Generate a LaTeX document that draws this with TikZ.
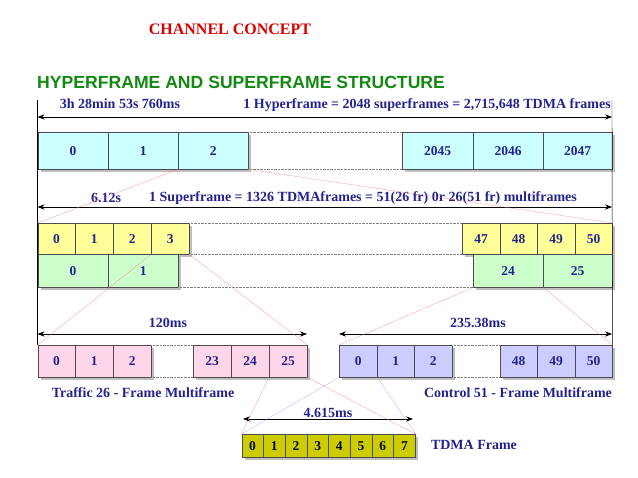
\documentclass[tikz,border=0pt]{standalone}
\usepackage{fontspec}
\setmainfont{Liberation Serif}
\newfontfamily\titlesans{Liberation Sans}
\usepackage{tikz}
\usetikzlibrary{shadows, arrows.meta, positioning}

\definecolor{navy}{HTML}{23238E}
\definecolor{hypercol}{HTML}{CCFFFF}
\definecolor{supercol}{HTML}{FFFF99}
\definecolor{twentysix}{HTML}{CCFFCC}
\definecolor{trafcol}{HTML}{FFD5EA}
\definecolor{ctrlcol}{HTML}{CCCCFF}
\definecolor{tdmacol}{HTML}{CCCC00}
\definecolor{titlegreen}{HTML}{128A12}

\tikzset{
	cell/.style={draw=black!70, anchor=north west, inner sep=0pt, text=navy,
		font=\bfseries\fontsize{13.5}{13.5}\selectfont,
		drop shadow={shadow xshift=3pt, shadow yshift=-3pt, fill=black!25, opacity=1}},
	lbl/.style={text=navy, font=\bfseries\fontsize{14}{14}\selectfont, inner sep=1pt},
	span/.style={{Stealth[length=7pt]}-{Stealth[length=7pt]}, thick},
	gap/.style={black!50, densely dotted},
	zoomred/.style={red!55, very thin},
	zoomblue/.style={blue!40, very thin},
}

\begin{document}
\begin{tikzpicture}[x=1pt, y=-1pt]
	\useasboundingbox (0,0) rectangle (638,478);
	% titles
	\node[text=red!85!black, font=\bfseries\fontsize{16}{16}\selectfont] (title) at (230,29) {CHANNEL CONCEPT};
	\node[anchor=west, inner sep=0pt, text=titlegreen, font=\titlesans\bfseries\fontsize{17.6}{17.6}\selectfont] (head) at (37,82) {HYPERFRAME AND SUPERFRAME STRUCTURE};

	% outer frame lines
	\coordinate (ltop) at (37.5,100);
	\coordinate (rtop) at (612,100);

	% hyperframe
	\coordinate (ha) at (37.5,117);
	\coordinate (hb) at (612,117);
	\draw[span] (ha) -- (hb);
	\node[lbl] (hlen) at (120,104) {3h 28min 53s 760ms};
	\node[lbl, anchor=east] (hdef) at (612,105) {1 Hyperframe = 2048 superframes = 2,715,648 TDMA frames};
	\foreach \n/\x/\w/\t in {h0/37.5/70.5/0, h1/108/70/1, h2/178/70/2, h3/402/71/2045, h4/473/70/2046, h5/543/69/2047}
		\node[cell, fill=hypercol, minimum width=\w pt, minimum height=37pt] (\n) at (\x,132) {\t};
	\draw[gap] (h2.north east) -- (h3.north west);
	\draw[gap] (h2.south east) -- (h3.south west);

	% superframe
	\coordinate (sa) at (37.5,207);
	\coordinate (sb) at (612,207);
	\draw[span] (sa) -- (sb);
	\node[lbl] (slen) at (106,198) {6.12s};
	\node[lbl, anchor=west] (sdef) at (148,198) {1 Superframe = 1326 TDMAframes = 51(26 fr) 0r 26(51 fr) multiframes};
	\foreach \n/\x/\w/\t in {y0/37.5/37.5/0, y1/75/38/1, y2/113/38/2, y3/151/38/3, y4/462/38/47, y5/500/37/48, y6/537/38/49, y7/575/37/50}
		\node[cell, fill=supercol, minimum width=\w pt, minimum height=31pt] (\n) at (\x,223) {\t};
	\draw[gap] (y3.north east) -- (y4.north west);
	\draw[gap] (y3.south east) -- (y4.south west);
	\foreach \n/\x/\w/\t in {g0/37.5/70.5/0, g1/108/70/1, g2/473/70/24, g3/543/69/25}
		\node[cell, fill=twentysix, minimum width=\w pt, minimum height=33pt] (\n) at (\x,254) {\t};
	\draw[gap] (g1.south east) -- (g2.south west);

	% multiframes
	\coordinate (ta) at (37.5,334);
	\coordinate (tb) at (307,334);
	\coordinate (ca) at (339,334);
	\coordinate (cb) at (612,334);
	\draw[span] (ta) -- (tb);
	\draw[span] (ca) -- (cb);
	\node[lbl] (tlen) at (168,323) {120ms};
	\node[lbl] (clen) at (478,323) {235.38ms};
	\foreach \n/\x/\w/\t in {p0/37.5/37.5/0, p1/75/38/1, p2/113/38/2, p3/193/38/23, p4/231/38/24, p5/269/38/25}
		\node[cell, fill=trafcol, minimum width=\w pt, minimum height=32pt] (\n) at (\x,345) {\t};
	\draw[gap] (p2.north east) -- (p3.north west);
	\draw[gap] (p2.south east) -- (p3.south west);
	\foreach \n/\x/\w/\t in {c0/339/38/0, c1/377/37/1, c2/414/38/2, c3/500/37/48, c4/537/38/49, c5/575/37/50}
		\node[cell, fill=ctrlcol, minimum width=\w pt, minimum height=32pt] (\n) at (\x,345) {\t};
	\draw[gap] (c2.north east) -- (c3.north west);
	\draw[gap] (c2.south east) -- (c3.south west);
	\node[lbl] (tname) at (143,393) {Traffic 26 - Frame Multiframe};
	\node[lbl] (cname) at (518,393) {Control 51 - Frame Multiframe};

	% TDMA frame
	\coordinate (da) at (243,419);
	\coordinate (db) at (413,419);
	\draw[span] (da) -- (db);
	\node[lbl] (dlen) at (328,413) {4.615ms};
	\foreach \i in {0,...,7}
		\node[cell, fill=tdmacol, text=black!80!navy, minimum width=21.7pt, minimum height=23pt] (d\i) at ({241.5+21.7*\i},434) {\i};
	\node[lbl] (dname) at (474,445) {TDMA Frame};

	\draw (ltop) -- (p0.north west);
	\draw (rtop) -- (c5.north east);

	% zoom lines
	\draw[zoomred] (h2.south west) -- (y0.north west);
	\draw[zoomred] (h2.south east) -- (y7.north east);
	\draw[zoomred] (y3.south west) -- (p0.north west);
	\draw[zoomred] (y3.south east) -- (p5.north east);
	\draw[zoomred] (g2.south west) -- (c0.north west);
	\draw[zoomred] (g2.south east) -- (c5.north east);
	\draw[zoomred] (p5.south west) -- (d0.north west);
	\draw[zoomred] (p5.south east) -- (d7.north east);
	\draw[zoomblue] (c0.south west) -- (d0.north west);
	\draw[zoomblue] (c0.south east) -- (d7.north east);
\end{tikzpicture}
\end{document}
